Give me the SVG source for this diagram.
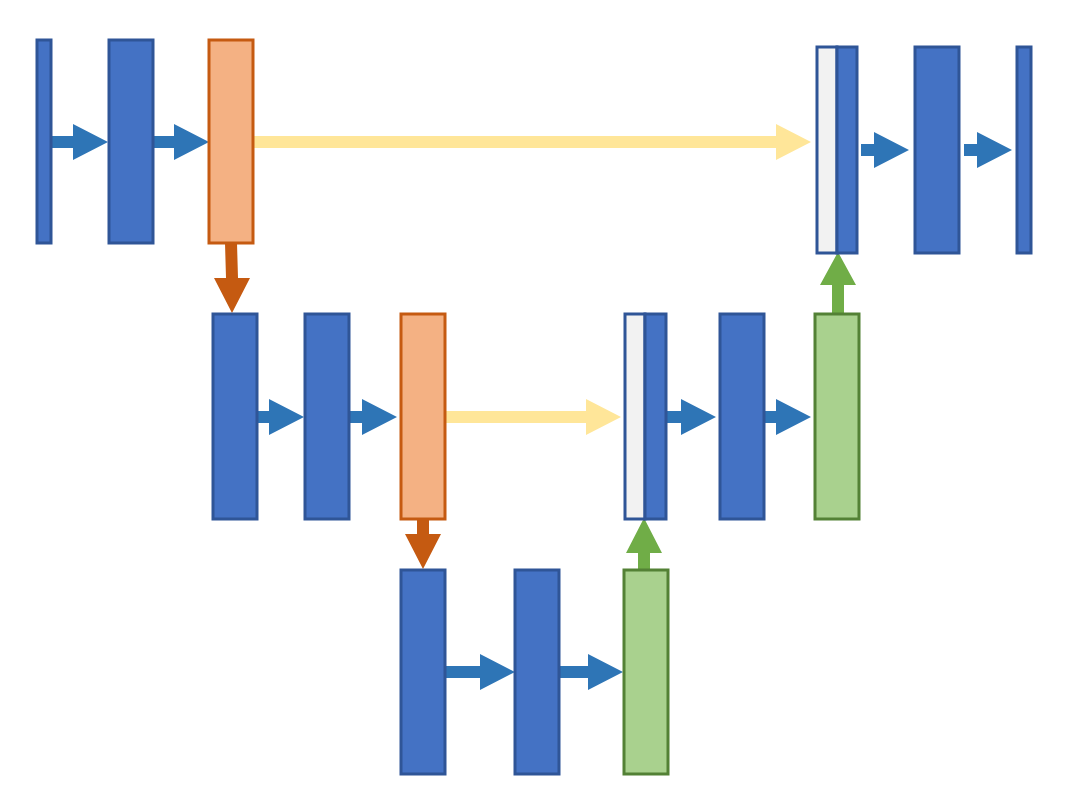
<svg xmlns="http://www.w3.org/2000/svg" width="1074" height="790" viewBox="0 0 1074 790">
<style>
.b{fill:#4472C4;stroke:#2F5597;stroke-width:3}
.o{fill:#F4B183;stroke:#C55A11;stroke-width:3}
.g{fill:#A9D18E;stroke:#538135;stroke-width:3}
.w{fill:#F2F2F2;stroke:#2F5597;stroke-width:3}
.ab{fill:#2E75B6}.ay{fill:#FFE699}.ao{fill:#C55A11}.ag{fill:#70AD47}
</style>
<rect width="1074" height="790" fill="#fff"/>
<g id="connectors">
<polygon class="ab" points="51,136 73,136 73,124 108,142 73,160 73,148 51,148"/>
<polygon class="ab" points="153,136 174,136 174,124 209,142 174,160 174,148 153,148"/>
<polygon class="ay" points="247,136 776,136 776,124 811,142 776,160 776,148 247,148"/>
<polygon class="ab" points="861,144 874,144 874,132 909,150 874,168 874,156 861,156"/>
<polygon class="ab" points="964,144 977,144 977,132 1012,150 977,168 977,156 964,156"/>
<polygon class="ao" points="225,243 237,243 238,278 250,278 232,313 214,278 226,278"/>
<polygon class="ab" points="257,411 269,411 269,399 304,417 269,435 269,423 257,423"/>
<polygon class="ab" points="349,411 362,411 362,399 397,417 362,435 362,423 349,423"/>
<polygon class="ay" points="445,411 586,411 586,399 621,417 586,435 586,423 445,423"/>
<polygon class="ab" points="666,411 681,411 681,399 716,417 681,435 681,423 666,423"/>
<polygon class="ab" points="764,411 776,411 776,399 811,417 776,435 776,423 764,423"/>
<polygon class="ag" points="832,313 844,313 844,285 856,285 838,252 820,285 832,285"/>
<polygon class="ao" points="417,519 429,519 429,534 441,534 423,569 405,534 417,534"/>
<polygon class="ab" points="445,666 480,666 480,654 515,672 480,690 480,678 445,678"/>
<polygon class="ab" points="559,666 588,666 588,654 623,672 588,690 588,678 559,678"/>
<polygon class="ag" points="638,570 650,570 650,553 662,553 644,518 626,553 638,553"/>
</g>
<g id="n1"><rect class="b" x="37" y="40" width="14" height="203"/></g>
<g id="n2"><rect class="b" x="109" y="40" width="44" height="203"/></g>
<g id="n3"><rect class="o" x="209" y="40" width="44" height="203"/></g>
<g id="n4"><rect class="w" x="817" y="47" width="20" height="206"/><rect class="b" x="837" y="47" width="20" height="206"/></g>
<g id="n5"><rect class="b" x="915" y="47" width="44" height="206"/></g>
<g id="n6"><rect class="b" x="1017" y="47" width="14" height="206"/></g>
<g id="n7"><rect class="b" x="213" y="314" width="44" height="205"/></g>
<g id="n8"><rect class="b" x="305" y="314" width="44" height="205"/></g>
<g id="n9"><rect class="o" x="401" y="314" width="44" height="205"/></g>
<g id="n10"><rect class="w" x="625" y="314" width="20" height="205"/><rect class="b" x="645" y="314" width="21" height="205"/></g>
<g id="n11"><rect class="b" x="720" y="314" width="44" height="205"/></g>
<g id="n12"><rect class="g" x="815" y="314" width="44" height="205"/></g>
<g id="n13"><rect class="b" x="401" y="570" width="44" height="204"/></g>
<g id="n14"><rect class="b" x="515" y="570" width="44" height="204"/></g>
<g id="n15"><rect class="g" x="624" y="570" width="44" height="204"/></g>
</svg>
